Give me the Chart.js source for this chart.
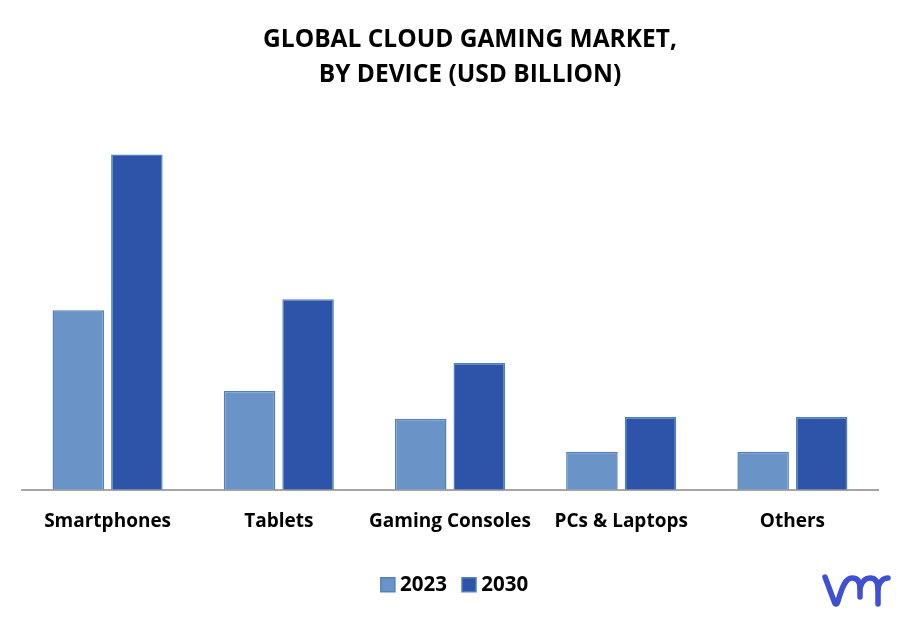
<!DOCTYPE html>
<html>
<head>
<meta charset="utf-8">
<title>Global Cloud Gaming Market</title>
<script src="https://cdn.jsdelivr.net/npm/chart.js@4"></script>
<style>
  html, body { margin: 0; background: #fff; }
  #wrap { position: relative; width: 901px; height: 617px; overflow: hidden; }
  #logo { position: absolute; left: 820px; top: 572px; }
</style>
</head>
<body>
<div id="wrap">
  <canvas id="chart" width="901" height="617"></canvas>
  <svg id="logo" width="72" height="38" viewBox="0 0 72 38" fill="none" stroke="#3f51d0" stroke-width="5.5" stroke-linecap="round" stroke-linejoin="round">
    <path d="M5 5 L14 29 C15 33 17 33 18 29 C21 20 24 6 32 6 C38 6 40 10 40 16 L40 25"/>
    <path d="M40 16 C42 9 46 6 50 6 C56 6 58 11 58 17 L58 32"/>
    <path d="M58 17 C59 10 63 6 68 6"/>
  </svg>
</div>
<script>
const categories = ['Smartphones', 'Tablets', 'Gaming Consoles', 'PCs & Laptops', 'Others'];
const values2023 = [1.8, 0.99, 0.71, 0.38, 0.38];
const values2030 = [3.36, 1.91, 1.27, 0.73, 0.73];
const titleLines = ['GLOBAL CLOUD GAMING MARKET,', 'BY DEVICE (USD BILLION)'];
const yMax = 3.6;

const fontName = '"Open Sans", sans-serif';

// the original title and legend sit right of the canvas centre
const nudgeBlocks = {
  id: 'nudgeBlocks',
  afterLayout(chart) {
    chart.titleBlock.left += 20;
    chart.titleBlock.right += 20;
    chart.legend.left += 7;
    chart.legend.right += 7;
  }
};

new Chart(document.getElementById('chart'), {
  type: 'bar',
  data: {
    labels: categories,
    datasets: [
      { label: '2023', data: values2023, backgroundColor: '#6a93c8', borderColor: '#4f81bd', borderWidth: 1.5 },
      { label: '2030', data: values2030, backgroundColor: '#2e54a9', borderColor: '#4f81bd', borderWidth: 1.5 }
    ]
  },
  plugins: [nudgeBlocks],
  options: {
    responsive: false,
    animation: false,
    layout: { padding: { left: 22, right: 23, top: 0, bottom: 12 } },
    datasets: { bar: { categoryPercentage: 0.684, barPercentage: 0.88 } },
    plugins: {
      tooltip: { enabled: false },
      title: {
        display: true,
        text: titleLines,
        color: '#000',
        font: { family: fontName, size: 24.5, weight: '700', lineHeight: 1.42 },
        padding: { top: 23, bottom: 38 }
      },
      legend: {
        position: 'bottom',
        labels: {
          color: '#000',
          // small nominal box so the square sits close to its label
          usePointStyle: true,
          pointStyle: 'rect',
          boxWidth: 4,
          boxHeight: 14,
          padding: 20,
          font: { family: fontName, size: 20.5, weight: '700' }
        }
      }
    },
    scales: {
      x: {
        afterFit: (scale) => { scale.height += 2; },
        grid: { display: false, drawTicks: false },
        border: { color: '#aaa5a5', width: 2 },
        ticks: {
          color: '#000',
          padding: 20,
          maxRotation: 0,
          font: { family: fontName, size: 19, weight: '700' }
        }
      },
      y: { display: false, min: 0, max: yMax }
    }
  }
});
</script>
</body>
</html>
